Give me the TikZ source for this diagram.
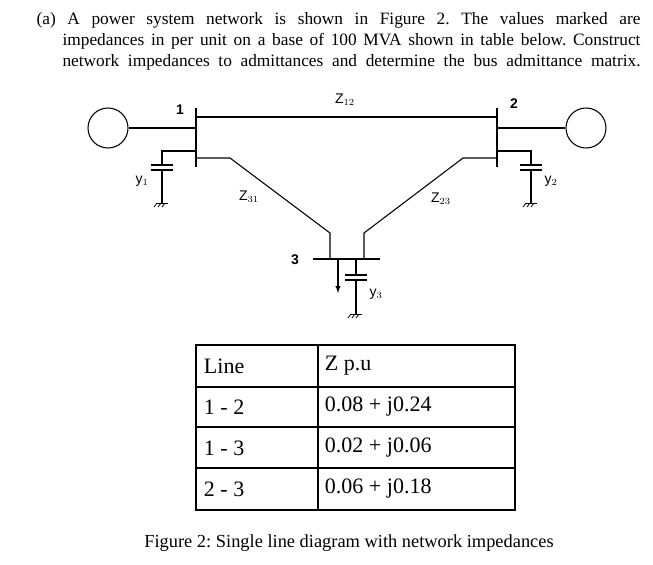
\documentclass[tikz,border=0pt]{standalone}
\usepackage{fontspec}
\setmainfont{Liberation Serif}
\newfontfamily\sansf{Liberation Sans}
\frenchspacing
\begin{document}
\begin{tikzpicture}[x=0.75pt,y=-0.75pt,line width=0.8pt,
  lbl/.style={font=\sansf\fontsize{10.5}{12}\selectfont},
  tb/.style={font=\fontsize{16.5}{19}\selectfont,anchor=west},
  hl/.style={font=\fontsize{13}{15}\selectfont,anchor=west,inner sep=0pt},
  gnd/.style={line width=0.6pt}]
\useasboundingbox (0,0) rectangle (653,564);
% header
\node[hl] (hdr1) at (36,20) {\makebox[453pt][s]{(a) A power system network is shown in Figure 2. The values marked are}};
\node[hl] (hdr2) at (62,41) {\makebox[433.5pt][s]{impedances in per unit on a base of 100 MVA shown in table below. Construct}};
\node[hl] (hdr3) at (62,62) {\makebox[433.5pt][s]{network impedances to admittances and determine the bus admittance matrix.}};
% generators
\node[circle,draw,minimum size=30pt,inner sep=0pt] (g1) at (108,128) {};
\node[circle,draw,minimum size=30pt,inner sep=0pt] (g2) at (586,128) {};
% buses
\coordinate (b1t) at (196,108); \coordinate (b1b) at (196,167);
\coordinate (b2t) at (497,108); \coordinate (b2b) at (497,167);
\draw (b1t) -- (b1b); \draw (b2t) -- (b2b);
\draw (313,259) -- (380,259);
\draw (g1) -- (196,128); \draw (g2) -- (497,128);
% line 1-2
\draw (196,117) -- (497,117);
% line 1-3
\draw (196,158) -- (230,158) -- (330,233) -- (330,259);
% line 2-3
\draw (497,158) -- (463,158) -- (364,233) -- (364,259);
% shunt caps
\draw (196,151) -- (162,151) -- (162,165);
\draw (151,165) -- (173,165); \draw (151,170) -- (173,170);
\draw (162,170) -- (162,203);
\draw (497,151) -- (531,151) -- (531,165);
\draw (520,165) -- (542,165); \draw (520,170) -- (542,170);
\draw (531,170) -- (531,203);
\draw (356,259) -- (356,275);
\draw (345,275) -- (367,275); \draw (345,280) -- (367,280);
\draw (356,280) -- (356,314);
% grounds
\foreach \x/\y in {162/203,531/203,356/314}{
  \draw[gnd] (\x-6,\y) -- (\x+6,\y);
  \foreach \d in {-5,-1,3}{\draw[gnd] (\x+\d,\y) -- (\x+\d-3,\y+4);}
}
% load
\draw[-latex] (338,259) -- (338,293);
% labels
\node[lbl] (l1) at (180,110) {\textbf{1}};
\node[lbl] (l2) at (514,104) {\textbf{2}};
\node[lbl] (l3) at (295,260) {\textbf{3}};
\node[lbl] (z12) at (345,100) {Z$_{12}$};
\node[lbl] (z31) at (249,197) {Z$_{31}$};
\node[lbl] (z23) at (441,199) {Z$_{23}$};
\node[lbl] (y1) at (142,181) {y$_1$};
\node[lbl] (y2) at (551,181) {y$_2$};
\node[lbl] (y3) at (376,294) {y$_3$};
% table
\draw[line width=0.9pt] (196,345) rectangle (515,510);
\foreach \y in {387,427,468}{\draw[line width=0.9pt] (196,\y) -- (515,\y);}
\draw[line width=0.9pt] (318,345) -- (318,510);
\node[tb] (h1) at (199,366) {Line};
\node[tb] (h2) at (320,366) {Z p.u};
\node[tb] (r1) at (199,407) {1 - 2};
\node[tb] (r1z) at (320,407) {0.08 + j0.24};
\node[tb] (r2) at (199,448) {1 - 3};
\node[tb] (r2z) at (320,448) {0.02 + j0.06};
\node[tb] (r3) at (199,489) {2 - 3};
\node[tb] (r3z) at (320,489) {0.06 + j0.18};
\node[font=\fontsize{13.8}{16}\selectfont] (cap) at (349,543) {Figure 2: Single line diagram with network impedances};
\end{tikzpicture}
\end{document}
